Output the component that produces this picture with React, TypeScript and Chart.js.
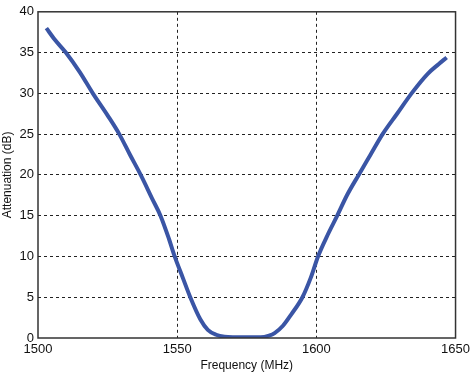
import React, { useEffect, useRef } from "react";
import { Chart, registerables } from "chart.js";

Chart.register(...registerables);

const freqMHz = [1503, 1506, 1510, 1515, 1519.7, 1525, 1529.2, 1533, 1536.9, 1541, 1544, 1547, 1549.1, 1552, 1554.7, 1558.3, 1561, 1564, 1567, 1570, 1575, 1580, 1583, 1585, 1588, 1591, 1595, 1598, 1600.6, 1604, 1607.5, 1611, 1615.2, 1619.5, 1623.8, 1629, 1634.2, 1640, 1644, 1646.8];
const attenuationDb = [38, 36.6, 35, 32.6, 30, 27.3, 25, 22.5, 20, 17.1, 15, 12.2, 10, 7.4, 5, 2.3, 1.0, 0.4, 0.15, 0.1, 0.1, 0.1, 0.3, 0.6, 1.5, 2.9, 5, 7.4, 10, 12.6, 15, 17.5, 20, 22.5, 25, 27.5, 30, 32.4, 33.6, 34.4];

const xTicks = [1500, 1550, 1600, 1650];
const yTicks = [0, 5, 10, 15, 20, 25, 30, 35, 40];

const FONT = "'Liberation Sans', Arial, Helvetica, sans-serif";

const boxPlugin = {
  id: "box",
  afterDraw(chart: any) {
    const { ctx, chartArea } = chart;
    ctx.save();
    ctx.strokeStyle = "#333";
    ctx.lineWidth = 1.5;
    ctx.setLineDash([]);
    ctx.strokeRect(chartArea.left, chartArea.top, chartArea.right - chartArea.left, chartArea.bottom - chartArea.top);
    ctx.restore();
  },
};

export default function App() {
  const ref = useRef<HTMLCanvasElement | null>(null);
  useEffect(() => {
    if (!ref.current) return;
    const chart = new Chart(ref.current, {
      type: "line",
      data: {
        datasets: [
          {
            data: freqMHz.map((f, i) => ({ x: f, y: attenuationDb[i] })),
            borderColor: "#3a55a5",
            borderWidth: 4,
            pointRadius: 0,
            cubicInterpolationMode: "monotone",
            fill: false,
          },
        ],
      },
      options: {
        animation: false,
        responsive: false,
        maintainAspectRatio: false,
        layout: { padding: { top: 5, right: 13, left: 0, bottom: 0 } },
        plugins: { legend: { display: false }, tooltip: { enabled: false } },
        scales: {
          x: {
            type: "linear",
            min: 1500,
            max: 1650,
            afterBuildTicks: (s: any) => {
              s.ticks = xTicks.map((v) => ({ value: v }));
            },
            afterFit: (s: any) => {
              s.height = 35;
            },
            grid: {
              color: (c: any) => (c.tick && (c.tick.value === 1500 || c.tick.value === 1650) ? "rgba(0,0,0,0)" : "#222"),
              lineWidth: 1,
              drawTicks: false,
            },
            border: { display: false, dash: [3, 3] },
            ticks: { color: "#111", font: { family: FONT, size: 13 }, padding: 4, maxRotation: 0, autoSkip: false, callback: (v: any) => String(v) },
            title: { display: true, text: "Frequency (MHz)", color: "#111", font: { family: FONT, size: 12 }, padding: { top: 0, bottom: 0 } },
          },
          y: {
            min: 0,
            max: 40,
            afterBuildTicks: (s: any) => {
              s.ticks = yTicks.map((v) => ({ value: v }));
            },
            afterFit: (s: any) => {
              s.width = 38;
            },
            grid: {
              color: (c: any) => (c.tick && (c.tick.value === 0 || c.tick.value === 40) ? "rgba(0,0,0,0)" : "#222"),
              lineWidth: 1,
              drawTicks: false,
            },
            border: { display: false, dash: [3, 3] },
            ticks: { color: "#111", font: { family: FONT, size: 13 }, padding: 4, callback: (v: any) => String(v) },
            title: { display: true, text: "Attenuation (dB)", color: "#111", font: { family: FONT, size: 12 }, padding: { top: 0, bottom: 0 } },
          },
        },
      },
      plugins: [boxPlugin],
    });
    return () => chart.destroy();
  }, []);
  return (
    <div style={{ position: "fixed", left: 0, top: 0, width: 474, height: 373, background: "#fff" }}>
      <canvas ref={ref} width={474} height={373} style={{ display: "block" }} />
    </div>
  );
}
